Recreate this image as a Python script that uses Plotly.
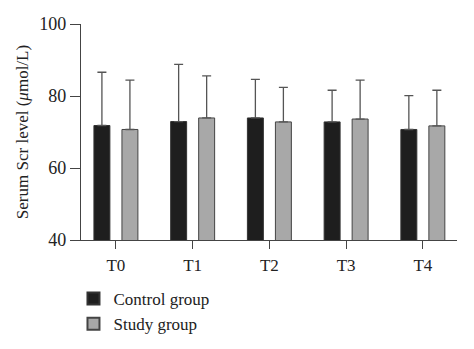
import plotly.graph_objects as go

categories = ["T0", "T1", "T2", "T3", "T4"]
control_mean = [71.8, 72.9, 73.9, 72.8, 70.7]
control_sd = [14.8, 15.9, 10.7, 8.8, 9.4]
study_mean = [70.7, 73.9, 72.8, 73.6, 71.7]
study_sd = [13.7, 11.7, 9.6, 10.8, 9.9]

FONT = "Liberation Serif"

fig = go.Figure()
fig.add_trace(go.Bar(
    x=categories, y=control_mean, name="Control group",
    marker=dict(color="#1e1e1e", line=dict(color="#333333", width=1)),
    error_y=dict(type="data", array=control_sd, arrayminus=[0]*5, symmetric=False,
                 color="#555555", thickness=1.3, width=4.5),
))
fig.add_trace(go.Bar(
    x=categories, y=study_mean, name="Study group",
    marker=dict(color="#a8a8a8", line=dict(color="#444444", width=1)),
    error_y=dict(type="data", array=study_sd, arrayminus=[0]*5, symmetric=False,
                 color="#555555", thickness=1.3, width=4.5),
))

fig.update_layout(
    width=474, height=349,
    margin=dict(l=81, r=17, t=24, b=109, autoexpand=False),
    paper_bgcolor="white", plot_bgcolor="white",
    barmode="group", bargap=0.27, bargroupgap=0.43,
    font=dict(family=FONT, color="#222222", size=16),
    showlegend=True,
    legend=dict(x=-0.02, y=-0.19, xanchor="left", yanchor="top",
                font=dict(family=FONT, size=17, color="#222222"),
                tracegroupgap=0, itemsizing="constant", bgcolor="rgba(0,0,0,0)"),
)
fig.update_xaxes(
    range=[-0.455, 4.445], showline=True, linecolor="#444444", linewidth=1.3,
    ticks="outside", ticklen=8, tickcolor="#444444", tickwidth=1.3,
    tickfont=dict(family=FONT, size=17, color="#222222"), showgrid=False,
    ticklabelstandoff=1,
)
fig.update_yaxes(
    range=[40, 100], tickvals=[40, 60, 80, 100], showline=True,
    linecolor="#444444", linewidth=1.3, ticks="outside", ticklen=10,
    tickcolor="#444444", tickwidth=1.3, showgrid=False, zeroline=False,
    tickfont=dict(family=FONT, size=18, color="#222222"),
    title=dict(text="Serum Scr level (<i>μ</i>mol/L)", font=dict(family=FONT, size=17, color="#222222"), standoff=6),
)

fig.write_html("out.html")
